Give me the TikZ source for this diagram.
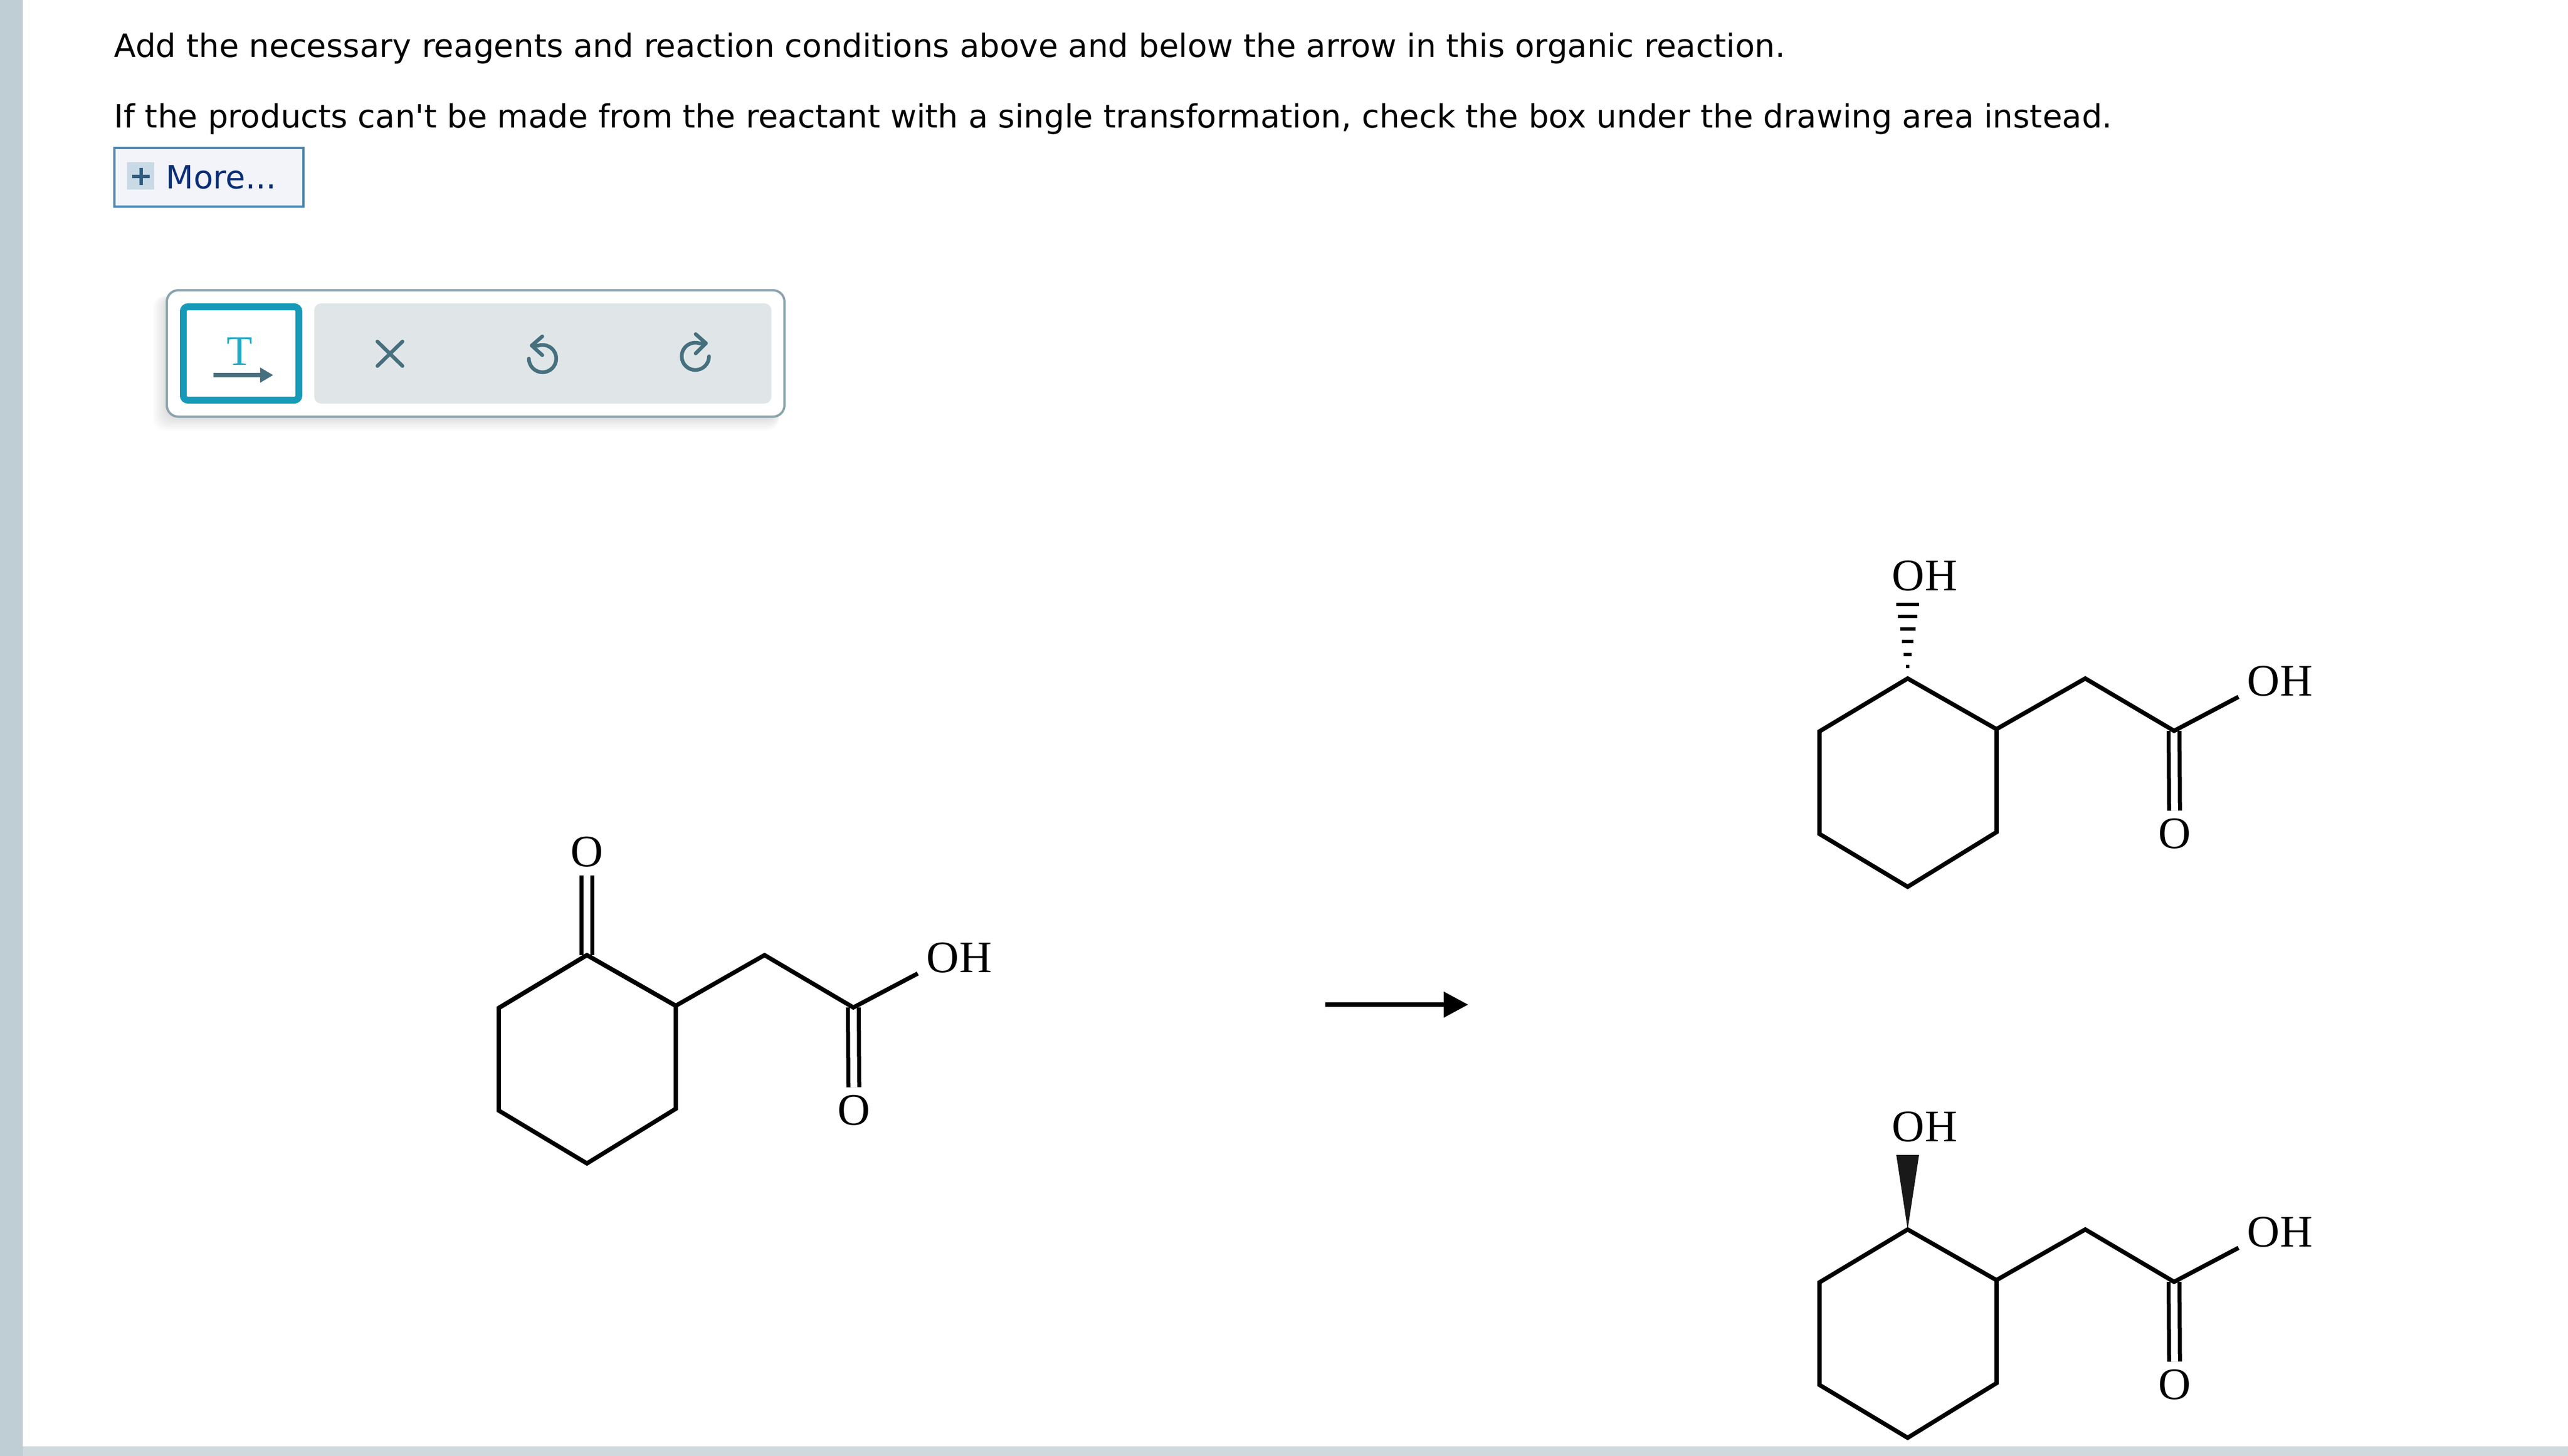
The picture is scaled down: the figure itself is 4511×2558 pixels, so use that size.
\documentclass[tikz,border=0pt]{standalone}
\usepackage{fontspec}
\setmainfont{DejaVu Sans}
\newfontfamily\serifatom{Liberation Serif}
\usetikzlibrary{arrows.meta,calc}
\definecolor{slate}{HTML}{47707F}
\definecolor{tealbox}{HTML}{169AB8}
\definecolor{tealtxt}{HTML}{1FAAC8}
\definecolor{morebd}{HTML}{4A85AE}
\definecolor{morebg}{HTML}{F2F4FA}
\definecolor{moretxt}{HTML}{0A2F78}
\definecolor{plusbg}{HTML}{C9DAE6}
\definecolor{plusfg}{HTML}{2F5D85}
\definecolor{sidebar}{HTML}{BFCDD4}
\definecolor{footbar}{HTML}{D0DADE}
\definecolor{toolbd}{HTML}{8AA3AD}
\definecolor{toolbg}{HTML}{E0E6E8}
\tikzstyle{txt}=[anchor=base west,inner sep=0pt,font=\fontsize{16pt}{18pt}\selectfont]
\tikzstyle{atm}=[inner xsep=.15cm,inner ysep=.135cm,font=\serifatom\fontsize{22.5pt}{24pt}\selectfont]
\tikzstyle{atmoh}=[atm,inner ysep=0pt]
\tikzstyle{bond}=[line width=.075cm,line join=miter]
\tikzstyle{dbond}=[line width=.07cm,double=white,double distance=.12cm]
\tikzstyle{icon}=[draw=slate,line width=.065cm,line cap=round,line join=round]

% ring and side chain, #1 = name, (#2,#3) = top atom of the ring
\newcommand{\acid}[3]{
\coordinate (#1a) at (#2,#3);
\coordinate (#1b) at ($(#1a)+(156,89)$);
\coordinate (#1c) at ($(#1a)+(156,270)$);
\coordinate (#1d) at ($(#1a)+(0,366)$);
\coordinate (#1e) at ($(#1a)+(-155,273)$);
\coordinate (#1f) at ($(#1a)+(-155,93)$);
\coordinate (#1g) at ($(#1a)+(312,0)$);
\coordinate (#1h) at ($(#1a)+(468,92)$);
\node[atmoh] (#1oh) at ($(#1a)+(654,5)$) {OH};
\node[atm] (#1o) at ($(#1a)+(469,273)$) {O};
\draw[dbond] (#1h) -- (#1o);
\draw[bond] (#1a) -- (#1b) -- (#1c) -- (#1d) -- (#1e) -- (#1f) -- cycle;
\draw[bond] (#1b) -- (#1g) -- (#1h) -- (#1oh.south west);
}

\begin{document}
\begin{tikzpicture}[x=.01cm,y=-.01cm]
\useasboundingbox (0,0) rectangle (4511,2558);
\fill[white] (0,0) rectangle (4511,2558);
\fill[sidebar] (0,0) rectangle (40,2558);
\fill[footbar] (40,2541) rectangle (4511,2558);

\node[txt] (line1) at (200,101) {Add the necessary reagents and reaction conditions above and below the arrow in this organic reaction.};
\node[txt] (line2) at (200,225) {If the products can\textquotesingle t be made from the reactant with a single transformation, check the box under the drawing area instead.};

% more button
\draw[draw=morebd,fill=morebg,line width=.04cm] (201,260) rectangle (533,363);
\fill[plusbg] (223,285) rectangle (271,333);
\draw[draw=plusfg,line width=.06cm] (232,310) -- (263,310) (247.5,295) -- (247.5,325);
\node[txt,text=moretxt] (more) at (291,332) {More...};

% toolbar
\foreach \i in {1,...,8}
  \fill[black,opacity=.014,rounded corners=.2cm] (293-\i*3,520) rectangle (1368,732+\i*3);
\draw[draw=toolbd,fill=white,line width=.04cm,rounded corners=.2cm] (293,510) rectangle (1378,732);
\draw[draw=tealbox,fill=white,line width=.12cm,rounded corners=.08cm] (322,539) rectangle (525,703);
\fill[toolbg,rounded corners=.12cm] (552,533) rectangle (1355,709);
\node[inner sep=0pt,text=tealtxt,font=\serifatom\fontsize{21pt}{24pt}\selectfont] (tool) at (421,617) {T};
\coordinate (toola) at (375,659);
\coordinate (toolb) at (480,659);
\draw[draw=slate,line width=.073cm,-{Triangle[length=.23cm,width=.25cm]}] (toola) -- (toolb);
\draw[icon] (663,600) -- (707,643) (707,600) -- (663,643);
\draw[icon] (929,630) arc (180:470:.24cm) -- (934,607);
\draw[icon] (952.6,591) -- (934,607) -- (952.6,624);
\draw[icon] (1245.5,626) arc (0:-290:.24cm) -- (1240,603);
\draw[icon] (1222,587) -- (1240,603) -- (1222,621);

% reactant
\acid{r}{1031}{1678}
\node[atm] (ro2) at (1031,1497) {O};
\draw[dbond] (ra) -- (ro2);
\draw[bond] (rf) -- (ra) -- (rb);

% reaction arrow
\coordinate (rxa) at (2328,1765);
\coordinate (rxb) at (2579,1765);
\draw[line width=.073cm,-{Triangle[length=.43cm,width=.44cm]}] (rxa) -- (rxb);

% hashed product
\acid{p}{3351}{1192}
\node[atm] (poh2) at (3381,1012) {OH};
\foreach \yy/\ww in {130/20,109/17,87/13.5,65/10,42/6.7,21/2.7}
  \draw[line width=.06cm] ($(pa)+(-\ww,-\yy)$) -- ($(pa)+(\ww,-\yy)$);

% wedge product
\acid{q}{3351}{2160}
\node[atm] (qoh2) at (3381,1980) {OH};
\fill[black!90] (qa) -- ($(qa)+(-20,-131)$) -- ($(qa)+(20,-131)$) -- cycle;
\end{tikzpicture}
\end{document}
